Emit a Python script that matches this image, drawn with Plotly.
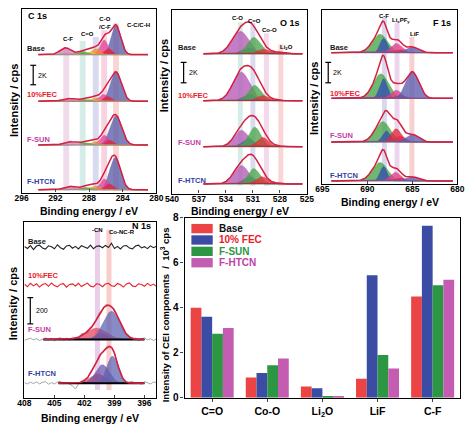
import numpy as np
import plotly.graph_objects as go

# ======================= DATA =======================
sample_names = ["Base", "10%FEC", "F-SUN", "F-HTCN"]

# ---- C 1s fitted components: (centre / eV, FWHM / eV, height / K cps)
c1s_base = [(284.8, 1.3, 3.0), (286.2, 1.1, 1.5), (285.7, 1.0, 0.6), (287.2, 1.1, 0.6),
            (287.9, 1.0, 0.3), (288.8, 1.3, 0.35), (290.8, 1.5, 0.7)]
c1s_fec = [(284.8, 1.5, 3.0), (286.3, 1.2, 0.7), (285.8, 1.0, 0.5), (287.3, 1.1, 0.35),
           (288.0, 1.0, 0.2), (288.8, 1.3, 0.2), (290.5, 1.6, 0.3)]
c1s_sun = [(284.8, 1.6, 3.0), (286.2, 1.2, 1.0), (285.6, 1.0, 0.5), (287.3, 1.1, 0.35),
           (288.0, 1.0, 0.2), (288.7, 1.3, 0.25), (290.3, 1.6, 0.35)]
c1s_htcn = [(284.9, 1.5, 3.3), (286.2, 1.2, 1.1), (285.6, 1.0, 0.6), (287.3, 1.1, 0.4),
            (288.0, 1.0, 0.25), (288.6, 1.3, 0.25), (290.3, 1.6, 0.35)]
c1s_offsets = [14.2, 9.4, 4.9, 0.3]
c1s_span = (294.0, 281.0)
c1s_ticks = [296, 292, 288, 284, 280]
c1s_bands = [290.7, 288.75, 287.2, 286.2, 284.8]
c1s_peak_labels = ["C-F", "C=O", "C-O<br>/C-F", "C-C/C-H"]

# ---- O 1s
o1s_base = [(532.4, 2.2, 2.2), (531.5, 1.6, 0.6), (530.9, 1.7, 1.6), (529.8, 1.5, 0.45), (528.3, 1.3, 0.15)]
o1s_fec = [(532.3, 2.2, 2.8), (531.4, 1.6, 0.6), (530.8, 1.6, 1.5), (529.9, 1.5, 0.5), (528.5, 1.3, 0.1)]
o1s_sun = [(532.3, 1.9, 1.6), (531.5, 1.5, 0.8), (530.8, 1.6, 1.9), (529.9, 1.5, 0.9), (528.6, 1.3, 0.1)]
o1s_htcn = [(532.3, 2.0, 1.8), (531.4, 1.5, 0.7), (530.9, 1.5, 1.5), (530.0, 1.5, 0.7), (528.5, 1.3, 0.08)]
o1s_offsets = [13.7, 9.1, 4.6, 0.95]
o1s_span = (536.5, 525.5)
o1s_ticks = [540, 537, 534, 531, 528, 525]
o1s_bands = [532.4, 531.0, 529.5, 527.9]
o1s_peak_labels = ["C-O", "C=O", "Co-O", "Li<sub>2</sub>O"]

# ---- F 1s
f1s_base = [(688.6, 2.0, 1.8), (688.2, 0.9, 1.4), (686.8, 1.4, 0.9), (686.4, 1.2, 0.3), (685.0, 1.5, 0.55)]
f1s_fec = [(688.5, 2.0, 2.4), (688.2, 1.0, 1.9), (686.8, 1.4, 0.8), (686.4, 1.2, 0.3), (685.0, 1.7, 2.6)]
f1s_sun = [(688.3, 2.0, 2.0), (687.9, 1.0, 1.1), (686.4, 1.3, 0.6), (686.8, 1.3, 1.3), (685.0, 1.6, 0.75)]
f1s_htcn = [(688.6, 2.0, 1.8), (688.2, 0.9, 1.4), (686.9, 1.3, 0.85), (686.4, 1.2, 0.3), (685.0, 1.5, 0.4)]
f1s_offsets = [12.86, 8.38, 4.1, 0.29]
f1s_span = (694.0, 680.5)
f1s_ticks = [695, 690, 685, 680]
f1s_bands = [688.1, 686.7, 685.05]
f1s_peak_labels = ["C-F", "Li<sub>x</sub>PF<sub>y</sub>", "LiF"]

# ---- N 1s (cps)
n1s_grid = (408.0, 394.8, 45)
n1s_base_noise = [5, -10, 12, -18, 8, 15, -6, -15, 10, 3, -12, 18, -4, -16, 9, 14, -8, 6, -14, 11,
                  2, -9, 16, -12, 7, 10, -5, 13, -3, 30, -10, 6, -14, 9, 12, -7, -13, 8, 15, -6,
                  4, -11, 10, -4, 6]
n1s_fec_noise = [8, -12, 14, -6, 10, -15, 4, 12, -9, 16, -4, -13, 7, 11, -16, 5, 9, -7, 13, -11,
                 3, 15, -8, -14, 10, 6, -12, 8, 14, -5, -10, 12, 3, -15, 9, 17, -6, -12, 10, 5,
                 -9, 13, -4, 8, -10]
n1s_sun_noise = [-6, 4, 10, -3, 6, -8, 3, 12, -5, 8, -10, 6, 14, -4, 9, -6, 12, 5, -8, 15,
                 6, -10, 12, -5, 8, 14, -6, 10, 4, -8, 12, -4, 6, -9, 10, 3, -6, 8, -10, 5,
                 12, -4, 6, -8, 4]
n1s_htcn_noise = [4, -6, 8, -3, 10, -5, 6, 12, -8, 4, -6, 9, 14, -4, 6, -10, -20, -45, -8, 6,
                  10, -5, 12, 4, -8, 10, -6, 8, 12, -4, 6, -8, 10, 3, -6, 8, 14, -4, 6, -10,
                  12, 4, -6, 8, 5]
n1s_sun = [(400.8, 2.4, 85), (400.3, 1.2, 45), (399.3, 1.9, 215)]
n1s_htcn = [(400.7, 1.8, 70), (400.2, 1.6, 140), (399.2, 1.3, 205)]
n1s_offsets = [1147, 858, 444, 111]
n1s_sun_span = (406.1, 396.0)
n1s_htcn_span = (404.6, 396.0)
n1s_ticks = [408, 405, 402, 399, 396]
n1s_bands = [400.7, 399.55]
n1s_peak_labels = ["-CN", "Co-NC-R"]

# ---- CEI component bar chart (10^3 cps)
bar_categories = ["C=O", "Co-O", "Li<sub>2</sub>O", "LiF", "C-F"]
bar_base = [4.0, 0.9, 0.5, 0.85, 4.5]
bar_fec = [3.6, 1.1, 0.42, 5.45, 7.65]
bar_sun = [2.85, 1.45, 0.08, 1.9, 5.0]
bar_htcn = [3.1, 1.75, 0.05, 1.3, 5.25]
bar_series = ["Base", "10% FEC", "F-SUN", "F-HTCN"]
bar_ticks = [0, 2, 4, 6, 8]

# ======================= STYLE =======================
W, H = 474, 430
FONT = "Arial, Liberation Sans, sans-serif"
LABEL_COLORS = ["#1a1a1a", "#e8202a", "#c23ea2", "#2f3fa0"]
ENV_COLOR = "#d61f3f"
BASELINE_COLOR = "#808080"


def px(x):
    return x / W


def py(y):
    return 1 - y / H


def gauss(x, c, w, h):
    return h * np.exp(-4 * np.log(2) * (x - c) ** 2 / w ** 2)


def rgba(hexc, a):
    hexc = hexc.lstrip("#")
    r, g, b = int(hexc[0:2], 16), int(hexc[2:4], 16), int(hexc[4:6], 16)
    return f"rgba({r},{g},{b},{a})"


fig = go.Figure()
shapes = []
annotations = []


def ann(x, y, text, size=7, color="black", xanchor="center", bold=True, textangle=0):
    annotations.append(dict(
        x=px(x), y=py(y), xref="paper", yref="paper", text=text, showarrow=False,
        xanchor=xanchor, yanchor="middle", textangle=textangle,
        font=dict(family=FONT, size=size, color=color, weight="bold" if bold else "normal")))


def add_spectra(xn, comps_list, colors, offsets, span, alpha=0.78):
    xa, ya = ("x", "y") if xn == "" else ("x" + xn, "y" + xn)
    grid = np.linspace(span[0], span[1], 320)
    for comps, off in zip(comps_list, offsets):
        fig.add_trace(go.Scatter(x=[span[0], span[1]], y=[off, off], mode="lines",
                                 line=dict(color=BASELINE_COLOR, width=1.2),
                                 xaxis=xa, yaxis=ya, showlegend=False, hoverinfo="skip"))
        env = np.zeros_like(grid)
        for (c, w, h), col in zip(comps, colors):
            g = gauss(grid, c, w, h)
            env += g
            fig.add_trace(go.Scatter(x=grid, y=off + g, mode="lines", fill="toself",
                                     fillcolor=rgba(col, alpha), line=dict(color=rgba(col, 0.9), width=0.5),
                                     xaxis=xa, yaxis=ya, showlegend=False, hoverinfo="skip"))
        fig.add_trace(go.Scatter(x=grid, y=off + env, mode="lines",
                                 line=dict(color=ENV_COLOR, width=1.5),
                                 xaxis=xa, yaxis=ya, showlegend=False, hoverinfo="skip"))


def add_bands(xn, centres, colors, tops, bottom, width):
    xa, ya = ("x", "y") if xn == "" else ("x" + xn, "y" + xn)
    for c, col, top in zip(centres, colors, tops):
        shapes.append(dict(type="rect", xref=xa, yref=ya, x0=c - width / 2, x1=c + width / 2,
                           y0=bottom, y1=top, fillcolor=col, opacity=0.55, line=dict(width=0),
                           layer="below"))


def scale_bar(x, y0, y1, label, lx):
    shapes.append(dict(type="line", xref="paper", yref="paper", x0=px(x), x1=px(x), y0=py(y0), y1=py(y1),
                       line=dict(color="black", width=1.2)))
    for yy in (y0, y1):
        shapes.append(dict(type="line", xref="paper", yref="paper", x0=px(x - 3), x1=px(x + 3),
                           y0=py(yy), y1=py(yy), line=dict(color="black", width=1.2)))
    ann(lx, (y0 + y1) / 2, label, size=7, xanchor="left", bold=False)


# ---------------- C 1s ----------------
c1s_colors = ["#5a5ea8", "#e2449a", "#d9263f", "#f08a2c", "#e9cf45", "#4aa24a", "#cf86c2"]
add_bands("", c1s_bands, ["#e3bddb", "#b3ddd4", "#b9b9e3", "#f1afcb", "#f5b2b2"],
          [14.9, 15.6, 16.0, 16.7, 17.4], 0.2, 0.7)
add_spectra("", [c1s_base, c1s_fec, c1s_sun, c1s_htcn], c1s_colors, c1s_offsets, c1s_span)

# ---------------- O 1s ----------------
o1s_colors = ["#b55ab5", "#5858b0", "#4aa64a", "#e0303c", "#a02828"]
add_bands("2", o1s_bands, ["#b3dcd6", "#bdbde4", "#ebb9dd", "#f5b3b3"],
          [16.8, 16.7, 15.7, 14.6], 0.76, 0.55)
add_spectra("2", [o1s_base, o1s_fec, o1s_sun, o1s_htcn], o1s_colors, o1s_offsets, o1s_span)

# ---------------- F 1s ----------------
f1s_colors = ["#46a446", "#3550b0", "#e23c8c", "#e0283c", "#5c5cb0"]
add_bands("3", f1s_bands, ["#b7b7e4", "#dfb5df", "#f4aaaa"],
          [16.3, 15.8, 14.4], 0.29, 0.55)
add_spectra("3", [f1s_base, f1s_fec, f1s_sun, f1s_htcn], f1s_colors, f1s_offsets, f1s_span)

# ---------------- N 1s ----------------
n1s_colors_sun = ["#e4405a", "#d03070", "#5a60b0"]
n1s_colors_htcn = ["#e4405a", "#6a50a8", "#5a60b0"]
add_bands("4", n1s_bands, ["#d6a6d6", "#f3a59f"], [1280, 1280], 59, 0.5)
xg = np.linspace(*n1s_grid)
fig.add_trace(go.Scatter(x=xg, y=n1s_offsets[0] + np.array(n1s_base_noise), mode="lines",
                         line=dict(color="#222222", width=1.1), xaxis="x4", yaxis="y4",
                         showlegend=False, hoverinfo="skip"))
fig.add_trace(go.Scatter(x=xg, y=n1s_offsets[1] + np.array(n1s_fec_noise), mode="lines",
                         line=dict(color="#e8202a", width=1.1), xaxis="x4", yaxis="y4",
                         showlegend=False, hoverinfo="skip"))
for comps, cols, off, noise, span in [(n1s_sun, n1s_colors_sun, n1s_offsets[2], n1s_sun_noise, n1s_sun_span),
                                      (n1s_htcn, n1s_colors_htcn, n1s_offsets[3], n1s_htcn_noise, n1s_htcn_span)]:
    raw_env = np.zeros_like(xg)
    for (c, w, h) in comps:
        raw_env += gauss(xg, c, w, h)
    fig.add_trace(go.Scatter(x=xg, y=off + raw_env + np.array(noise), mode="lines",
                             line=dict(color="#9a9a9a", width=0.9), xaxis="x4", yaxis="y4",
                             showlegend=False, hoverinfo="skip"))
    grid = np.linspace(span[0], span[1], 300)
    env = np.zeros_like(grid)
    for (c, w, h), col in zip(comps, cols):
        g = gauss(grid, c, w, h)
        env += g
        fig.add_trace(go.Scatter(x=grid, y=off + g, mode="lines", fill="toself",
                                 fillcolor=rgba(col, 0.72), line=dict(color=rgba(col, 0.9), width=0.5),
                                 xaxis="x4", yaxis="y4", showlegend=False, hoverinfo="skip"))
    fig.add_trace(go.Scatter(x=[span[0], span[1]], y=[off, off], mode="lines",
                             line=dict(color="black", width=2), xaxis="x4", yaxis="y4",
                             showlegend=False, hoverinfo="skip"))
    fig.add_trace(go.Scatter(x=grid, y=off + env, mode="lines", line=dict(color=ENV_COLOR, width=1.6),
                             xaxis="x4", yaxis="y4", showlegend=False, hoverinfo="skip"))

# ---------------- Bars ----------------
bar_colors = ["#ec4444", "#3a4ca4", "#2d9643", "#c45cb2"]
legend_text_colors = ["#111111", "#e8202a", "#2d9643", "#c040a8"]
for vals, col, nm in zip([bar_base, bar_fec, bar_sun, bar_htcn], bar_colors, bar_series):
    fig.add_trace(go.Bar(x=bar_categories, y=vals, name=nm, marker=dict(color=col, line=dict(width=0)),
                         xaxis="x5", yaxis="y5", hoverinfo="skip", showlegend=False))

# compact legend (box + label) drawn in paper space
for i, (nm, col, tcol) in enumerate(zip(bar_series, bar_colors, legend_text_colors)):
    yc = 229 + i * 11.7
    shapes.append(dict(type="rect", xref="paper", yref="paper", x0=px(190), x1=px(212),
                       y0=py(yc + 4.8), y1=py(yc - 4.8), fillcolor=col, line=dict(width=0)))
    ann(216, yc, nm, size=10, color=tcol, xanchor="left")

# ======================= AXES =======================
tickfont = dict(family=FONT, size=8.5, color="black", weight="bold")


def xaxis(dom, rng, ticks, anchor):
    return dict(domain=[px(dom[0]), px(dom[1])], range=rng, tickvals=ticks, ticks="inside", ticklen=3,
                tickwidth=1, showline=True, mirror=True, linecolor="black", linewidth=1.3,
                tickfont=tickfont, showgrid=False, zeroline=False, anchor=anchor, fixedrange=True,
                ticklabelstandoff=-3)


def yaxis(dom, rng, anchor):
    return dict(domain=[py(dom[1]), py(dom[0])], range=rng, showticklabels=False, ticks="",
                showline=True, mirror=True, linecolor="black", linewidth=1.3, showgrid=False,
                zeroline=False, anchor=anchor, fixedrange=True)


layout = dict(
    width=W, height=H, margin=dict(l=0, r=0, t=0, b=0), paper_bgcolor="white", plot_bgcolor="white",
    xaxis=xaxis((15, 154), [296, 280], c1s_ticks, "y"),
    yaxis=yaxis((3, 192), [0, 18.9], "x"),
    xaxis2=xaxis((170, 309), [540, 525], o1s_ticks, "y2"),
    yaxis2=yaxis((4, 193), [0, 18.0], "x2"),
    xaxis3=xaxis((325, 464), [695, 680], f1s_ticks, "y3"),
    yaxis3=yaxis((4, 183), [0, 17.05], "x3"),
    xaxis4=xaxis((18, 154), [408, 394.8], n1s_ticks, "y4"),
    yaxis4=yaxis((222, 403), [0, 1340], "x4"),
    xaxis5=dict(domain=[px(183), px(467)], anchor="y5", showline=True, mirror=True, linecolor="black",
                linewidth=1.3, ticks="outside", ticklen=3,
                tickfont=dict(family=FONT, size=10.5, color="black", weight="bold"),
                showgrid=False, fixedrange=True),
    yaxis5=dict(domain=[py(403), py(218)], anchor="x5", range=[0, 8], tickvals=bar_ticks, ticks="outside",
                ticklen=3, showline=True, mirror=True, linecolor="black", linewidth=1.3,
                tickfont=dict(family=FONT, size=10, color="black", weight="bold"), showgrid=False,
                zeroline=False, fixedrange=True),
    barmode="group", bargap=0.22, bargroupgap=0.0,
    showlegend=False,
)

# ======================= TEXT =======================
# C 1s
ann(20, 10, "C 1s", size=9, xanchor="left")
ann(63, 34, c1s_peak_labels[0], size=6)
ann(83, 29, c1s_peak_labels[1], size=6)
ann(101, 18, c1s_peak_labels[2], size=6)
ann(136, 20, c1s_peak_labels[3], size=6)
for name, col, yy in zip(sample_names, LABEL_COLORS, [44, 91, 137, 181]):
    ann(19, yy, name, size=7.5, color=col, xanchor="left")
scale_bar(27, 61, 81, "2K", 30)
ann(7, 97, "Intensity / cps", size=11, textangle=-90)
ann(85, 211, "Binding energy / eV", size=10.5)

# O 1s
ann(304, 18, "O 1s", size=9, xanchor="right")
ann(238, 12, o1s_peak_labels[0], size=6)
ann(255, 15, o1s_peak_labels[1], size=6)
ann(270, 25, o1s_peak_labels[2], size=6)
ann(288, 43, o1s_peak_labels[3], size=6)
for name, col, yy in zip(sample_names, LABEL_COLORS, [43, 92, 140, 180]):
    ann(174, yy, name, size=7.5, color=col, xanchor="left")
scale_bar(182, 58, 79, "2K", 185)
ann(162, 72, "Intensity / cps", size=11, textangle=-90)
ann(240, 211, "Binding energy / eV", size=10.5)

# F 1s
ann(460, 17, "F 1s", size=9, xanchor="right")
ann(388, 10, f1s_peak_labels[0], size=6)
ann(406, 15, f1s_peak_labels[1], size=6)
ann(420, 29, f1s_peak_labels[2], size=6)
for name, col, yy in zip(sample_names, LABEL_COLORS, [43, 90, 133, 174]):
    ann(331, yy, name, size=7.5, color=col, xanchor="left")
scale_bar(331, 58, 79, "2K", 334)
ann(317, 95, "Intensity / cps", size=11, textangle=-90)
ann(395, 202, "Binding energy / eV", size=10.5)

# N 1s
ann(150, 226, "N 1s", size=9, xanchor="right")
ann(93, 230, n1s_peak_labels[0], size=6)
ann(118, 232, n1s_peak_labels[1], size=6)
for name, col, yy in zip(sample_names, LABEL_COLORS, [242, 277, 333, 378]):
    ann(20, yy, name, size=7.5, color=col, xanchor="left")
scale_bar(24, 300, 327, "200", 28)
ann(7, 306, "Intensity / cps", size=11, textangle=-90)
ann(86, 424, "Binding energy / eV", size=10.5)

# bar chart y title
ann(163, 318, "Intensity of CEI components  /  10<sup>3</sup> cps", size=9.5, textangle=-90)

layout["shapes"] = shapes
layout["annotations"] = annotations
fig.update_layout(**layout)
fig.write_html("out.html")
